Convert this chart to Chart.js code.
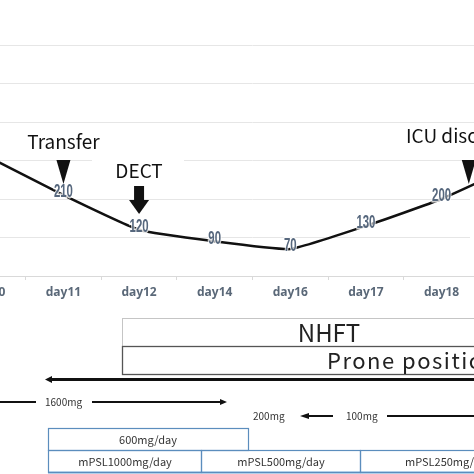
<!DOCTYPE html>
<html>
<head>
<meta charset="utf-8">
<script src="https://cdn.jsdelivr.net/npm/chart.js@4.4.1/dist/chart.umd.min.js"></script>
<style>
  html, body { margin: 0; padding: 0; background: #fff; overflow: hidden; }
  #wrap { position: absolute; left: -60px; top: 0; width: 620px; height: 474px; }
</style>
</head>
<body>
<div id="wrap"><canvas id="c"></canvas></div>
<script>
// data (first and last day are cut off at the edges)
const days = ['day10', 'day11', 'day12', 'day14', 'day16', 'day17', 'day18', 'day19'];
const values = [310, 210, 120, 90, 70, 130, 200, 290];
const yTicks = [0, 100, 200, 300, 400, 500, 600];

// events above the line: [text, category index, kind]
const events = [
  ['Transfer', 1, 'tri'],
  ['DECT', 2, 'arrow'],
  ['ICU discharge', 6.36, 'tri']
];

const OFF = 60; // canvas is shifted left by this much

var fontJP = '"Noto Sans CJK JP", "Noto Sans", sans-serif';

var extras = {
  id: 'extras',
  beforeDatasetsDraw: function (chart) {
    var ctx = chart.ctx;
    ctx.save();
    ctx.fillStyle = '#fff';
    // text boxes hiding the grid
    ctx.fillRect(92 + OFF, 150, 92, 26);
    ctx.fillRect(470 + OFF, 186, 20, 56);
    ctx.restore();
  },
  afterDatasetsDraw: function (chart) {
    var ctx = chart.ctx;
    var x = chart.scales.x;
    ctx.save();

    // value labels
    var meta = chart.getDatasetMeta(0);
    meta.data.forEach(function (pt, i) {
      ctx.save();
      ctx.translate(pt.x, pt.y - 3);
      ctx.scale(0.6, 1);
      ctx.font = 'bold 19px "Liberation Sans", sans-serif';
      ctx.textAlign = 'center';
      ctx.textBaseline = 'middle';
      ctx.lineWidth = 3;
      ctx.strokeStyle = 'rgba(255,255,255,0.8)';
      ctx.strokeText(String(values[i]), 0, 0);
      ctx.fillStyle = '#56677d';
      ctx.fillText(String(values[i]), 0, 0);
      ctx.restore();
    });

    // event markers
    ctx.fillStyle = '#111';
    ctx.font = '19px ' + fontJP;
    ctx.textBaseline = 'middle';
    events.forEach(function (ev) {
      var px = x.getPixelForValue(ev[1]);
      if (ev[2] === 'tri') {
        ctx.textAlign = ev[0] === 'Transfer' ? 'center' : 'left';
        var tx = ev[0] === 'Transfer' ? px : 406 + OFF;
        ctx.fillText(ev[0], tx, ev[0] === 'Transfer' ? 142 : 136);
        ctx.beginPath();
        ctx.moveTo(px - 7, 160);
        ctx.lineTo(px + 7, 160);
        ctx.lineTo(px, 184);
        ctx.closePath();
        ctx.fill();
      } else {
        ctx.textAlign = 'center';
        ctx.fillText(ev[0], px, 171);
        ctx.fillRect(px - 5, 186, 10, 15);
        ctx.beginPath();
        ctx.moveTo(px - 10, 200);
        ctx.lineTo(px + 10, 200);
        ctx.lineTo(px, 214);
        ctx.closePath();
        ctx.fill();
      }
    });

    // NHFT / prone position boxes
    var bx = 122 + OFF, bw = 620 - bx + 10;
    ctx.strokeStyle = '#8a8a8a';
    ctx.lineWidth = 1;
    ctx.setLineDash([1, 1]);
    ctx.strokeRect(bx + 0.5, 318.5, bw, 28);
    ctx.setLineDash([]);
    ctx.strokeStyle = '#555';
    ctx.lineWidth = 1.3;
    ctx.strokeRect(bx + 0.5, 346.5, bw, 28);
    ctx.fillStyle = '#222';
    ctx.font = '24px ' + fontJP;
    ctx.textAlign = 'center';
    ctx.fillText('NHFT', 329 + OFF, 333);
    ctx.font = '22px ' + fontJP;
    ctx.textAlign = 'left';
    ctx.letterSpacing = '1.5px';
    ctx.fillText('Prone position', 327 + OFF, 361);
    ctx.letterSpacing = '0px';

    // long arrow
    ctx.strokeStyle = '#111';
    ctx.fillStyle = '#111';
    ctx.lineWidth = 3;
    ctx.beginPath();
    ctx.moveTo(48 + OFF, 379.5);
    ctx.lineTo(620, 379.5);
    ctx.stroke();
    ctx.beginPath();
    ctx.moveTo(45 + OFF, 379.5);
    ctx.lineTo(52 + OFF, 376);
    ctx.lineTo(52 + OFF, 383);
    ctx.closePath();
    ctx.fill();

    // dose lines
    ctx.lineWidth = 2;
    ctx.beginPath();
    ctx.moveTo(0, 402);
    ctx.lineTo(36 + OFF, 402);
    ctx.moveTo(92 + OFF, 402);
    ctx.lineTo(222 + OFF, 402);
    ctx.moveTo(309 + OFF, 416);
    ctx.lineTo(333 + OFF, 416);
    ctx.moveTo(387 + OFF, 416);
    ctx.lineTo(620, 416);
    ctx.stroke();
    ctx.beginPath();
    ctx.moveTo(227 + OFF, 402);
    ctx.lineTo(220 + OFF, 399);
    ctx.lineTo(220 + OFF, 405);
    ctx.closePath();
    ctx.moveTo(300 + OFF, 416);
    ctx.lineTo(309 + OFF, 413);
    ctx.lineTo(309 + OFF, 419);
    ctx.closePath();
    ctx.fill();
    ctx.fillStyle = '#333';
    ctx.font = '10px ' + fontJP;
    ctx.textAlign = 'left';
    ctx.fillText('1600mg', 45 + OFF, 402);
    ctx.fillText('200mg', 253 + OFF, 416);
    ctx.fillText('100mg', 346 + OFF, 416);

    // steroid boxes
    ctx.fillStyle = '#bdd7ee';
    ctx.fillRect(48 + OFF, 471, 620, 4);
    ctx.strokeStyle = '#5b8dbd';
    ctx.lineWidth = 1.2;
    ctx.strokeRect(48.5 + OFF, 428.5, 200, 22);
    ctx.strokeRect(48.5 + OFF, 450.5, 153, 22);
    ctx.strokeRect(201.5 + OFF, 450.5, 159, 22);
    ctx.strokeRect(360.5 + OFF, 450.5, 300, 22);
    ctx.fillStyle = '#333';
    ctx.font = '11px ' + fontJP;
    ctx.textAlign = 'center';
    ctx.fillText('600mg/day', 148 + OFF, 440);
    ctx.fillText('mPSL1000mg/day', 125 + OFF, 462);
    ctx.fillText('mPSL500mg/day', 281 + OFF, 462);
    ctx.textAlign = 'left';
    ctx.fillText('mPSL250mg/day', 405 + OFF, 462);

    ctx.restore();
  }
};

new Chart(document.getElementById('c'), {
  type: 'line',
  data: {
    labels: days,
    datasets: [{
      data: values,
      borderColor: '#111',
      borderWidth: 2.5,
      pointRadius: 0,
      tension: 0.12,
      fill: false
    }]
  },
  options: {
    responsive: true,
    maintainAspectRatio: false,
    animation: false,
    layout: { padding: { left: 10, right: 5, top: 45, bottom: 168 } },
    plugins: { legend: { display: false }, tooltip: { enabled: false } },
    scales: {
      x: {
        offset: true,
        afterFit: function (s) { s.height = 30; },
        grid: { offset: true, drawOnChartArea: false, tickLength: 4, color: '#d9d9d9' },
        border: { color: '#d9d9d9' },
        ticks: { color: '#5a6878', padding: 5, font: { size: 12, weight: 'bold', family: '"Noto Sans", sans-serif' } }
      },
      y: {
        min: 0,
        max: 600,
        afterFit: function (s) { s.width = 0; },
        afterBuildTicks: function (s) { s.ticks = yTicks.map(function (v) { return { value: v }; }); },
        ticks: { display: false },
        border: { display: false },
        grid: { color: '#e6e6e6', drawTicks: false }
      }
    }
  },
  plugins: [extras]
});
</script>
</body>
</html>
